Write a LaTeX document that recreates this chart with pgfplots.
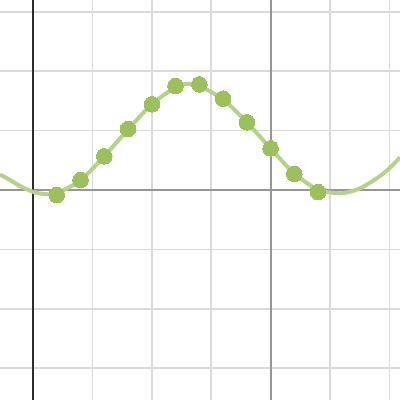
\documentclass[border=0pt]{standalone}
\usepackage{pgfplots}
\pgfplotsset{compat=1.18}
\definecolor{gridlight}{RGB}{218,218,218}
\definecolor{gridmid}{RGB}{150,150,150}
\definecolor{axisdark}{RGB}{45,45,45}
\definecolor{fitgreen}{RGB}{181,210,140}
\definecolor{dotgreen}{RGB}{156,192,92}
\begin{document}
\begin{tikzpicture}
\begin{axis}[
    width=400pt, height=400pt,
    scale only axis,
    xmin=-0.5556, xmax=6.178,
    ymin=-3.535, ymax=3.199,
    xtick={0,...,6},
    ytick={-3,...,3},
    xticklabels={}, yticklabels={},
    major tick length=0pt,
    axis line style={draw=none},
    grid=major,
    grid style={line width=1.6pt, color=gridlight},
    clip=true,
]
% darker reference lines
\draw[line width=2pt, gridmid] (axis cs:-0.5556,0) -- (axis cs:6.178,0);
\draw[line width=2pt, gridmid] (axis cs:4,-3.535) -- (axis cs:4,3.199);
\draw[line width=2.8pt, axisdark] (axis cs:0,-3.535) -- (axis cs:0,3.199);

% fitted curve
\addplot[smooth, tension=0.6, line width=4pt, fitgreen, no marks]
coordinates {
(-0.556,0.261)(-0.387,0.168)(-0.219,0.067)(0,-0.029)(0.168,-0.065)
(0.4,-0.05)(0.8,0.17)(1.2,0.57)(1.6,1.02)(2.0,1.44)(2.4,1.73)
(2.6,1.785)(2.8,1.75)(3.2,1.52)(3.6,1.14)(4.0,0.70)(4.4,0.28)
(4.8,0.0)(5.0,-0.039)(5.168,-0.056)(5.337,-0.029)(5.505,0.029)
(5.673,0.123)(5.842,0.236)(6.01,0.375)(6.178,0.55)
};

% data points
\addplot[only marks, color=dotgreen, mark=*, mark size=7.8pt,
    mark options={draw=dotgreen, fill=dotgreen, line width=0pt}]
coordinates {
(0.4,-0.084)(0.8,0.168)(1.2,0.567)(1.6,1.027)(2.0,1.443)(2.4,1.751)
(2.8,1.779)(3.2,1.537)(3.6,1.140)(4.0,0.702)(4.4,0.269)(4.8,-0.034)
};
\end{axis}
\pgfresetboundingbox
\path (current axis.south west) rectangle (current axis.north east);
\end{tikzpicture}
\end{document}
